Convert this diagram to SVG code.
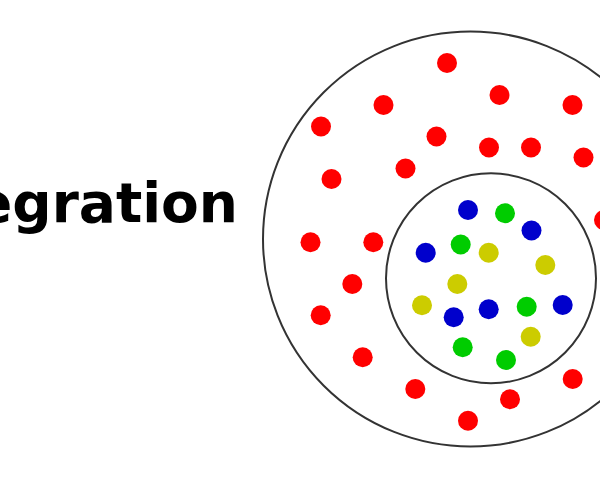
<svg xmlns="http://www.w3.org/2000/svg" width="600" height="480" viewBox="0 0 600 480">
<style>
.ring{fill:none;stroke:#333;stroke-width:2}
.r{fill:#f00}
.b{fill:#00c}
.g{fill:#0c0}
.y{fill:#cc0}
.lbl{font-family:"DejaVu Sans",sans-serif;font-weight:bold;font-size:55px;fill:#000}
</style>
<rect width="600" height="480" fill="#fff"/>
<text class="lbl" x="238" y="222" text-anchor="end">egration</text>
<g id="outer"><circle class="ring" cx="470.5" cy="239" r="207.5"/></g>
<g id="inner"><circle class="ring" cx="491" cy="278.3" r="105"/></g>
<g id="red">
<circle class="r" cx="447" cy="63" r="10"/>
<circle class="r" cx="383.5" cy="105" r="10"/>
<circle class="r" cx="499.5" cy="95" r="10"/>
<circle class="r" cx="572.5" cy="105" r="10"/>
<circle class="r" cx="321" cy="126.5" r="10"/>
<circle class="r" cx="436.5" cy="136.5" r="10"/>
<circle class="r" cx="489" cy="147.5" r="10"/>
<circle class="r" cx="531" cy="147.5" r="10"/>
<circle class="r" cx="583.5" cy="157.5" r="10"/>
<circle class="r" cx="331.5" cy="179" r="10"/>
<circle class="r" cx="405.5" cy="168.5" r="10"/>
<circle class="r" cx="604" cy="220" r="10"/>
<circle class="r" cx="310.5" cy="242.3" r="10"/>
<circle class="r" cx="373.3" cy="242.3" r="10"/>
<circle class="r" cx="352.3" cy="284" r="10"/>
<circle class="r" cx="320.7" cy="315.3" r="10"/>
<circle class="r" cx="362.7" cy="357.3" r="10"/>
<circle class="r" cx="415.3" cy="389" r="10"/>
<circle class="r" cx="510" cy="399.3" r="10"/>
<circle class="r" cx="468" cy="420.7" r="10"/>
<circle class="r" cx="572.7" cy="379" r="10"/>
</g>
<g id="blue">
<circle class="b" cx="468" cy="210" r="10"/>
<circle class="b" cx="531.5" cy="230.5" r="10"/>
<circle class="b" cx="425.7" cy="252.7" r="10"/>
<circle class="b" cx="453.7" cy="317.3" r="10"/>
<circle class="b" cx="488.7" cy="309.3" r="10"/>
<circle class="b" cx="562.7" cy="305" r="10"/>
</g>
<g id="green">
<circle class="g" cx="505" cy="213.3" r="10"/>
<circle class="g" cx="460.7" cy="244.5" r="10"/>
<circle class="g" cx="526.7" cy="306.7" r="10"/>
<circle class="g" cx="462.7" cy="347.3" r="10"/>
<circle class="g" cx="506" cy="360" r="10"/>
</g>
<g id="yellow">
<circle class="y" cx="488.7" cy="252.7" r="10"/>
<circle class="y" cx="545.3" cy="265" r="10"/>
<circle class="y" cx="457.3" cy="284" r="10"/>
<circle class="y" cx="422" cy="305.3" r="10"/>
<circle class="y" cx="530.7" cy="336.7" r="10"/>
</g>
</svg>
